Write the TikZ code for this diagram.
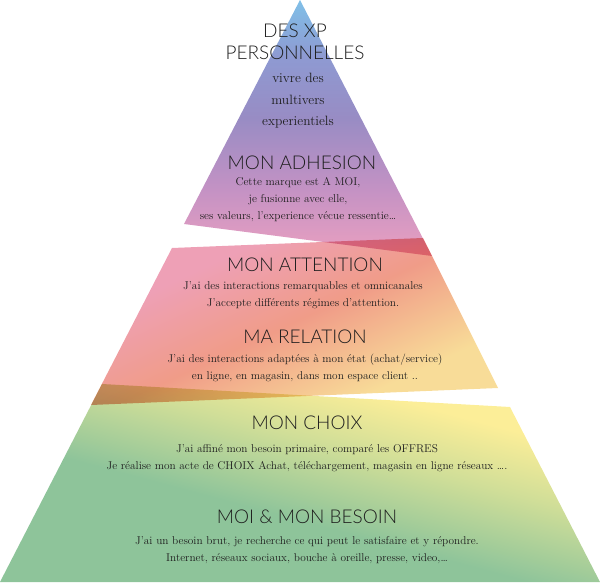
\documentclass[tikz,border=0pt]{standalone}
\usepackage{fontspec}
\newfontfamily\headfont{Lato Light}
\definecolor{xpBlue}{HTML}{80C0E8}
\definecolor{xpViolet}{HTML}{8E9AD2}
\definecolor{xpPurple}{HTML}{988CC4}
\definecolor{xpMauve}{HTML}{C492C4}
\definecolor{xpPink}{HTML}{EAA0C0}
\definecolor{relPink}{HTML}{EEA0B6}
\definecolor{relSalmon}{HTML}{F09C88}
\definecolor{relPeach}{HTML}{F8DC98}
\definecolor{lowGreen}{HTML}{8EC49A}
\definecolor{lowLime}{HTML}{D0DE98}
\definecolor{lowYellow}{HTML}{FCEE98}
\definecolor{inkGray}{HTML}{1E1E1E}
\pgfdeclareverticalshading{xpshade}{100bp}{color(0bp)=(xpPink); color(25bp)=(xpPink); color(38bp)=(xpMauve); color(52bp)=(xpPurple); color(64bp)=(xpViolet); color(75bp)=(xpBlue); color(100bp)=(xpBlue)}
\pgfdeclarehorizontalshading{relshade}{100bp}{color(0bp)=(relPink); color(32bp)=(relPink); color(50bp)=(relSalmon); color(70bp)=(relPeach); color(100bp)=(relPeach)}
\pgfdeclarehorizontalshading{lowshade}{100bp}{color(0bp)=(lowGreen); color(48bp)=(lowGreen); color(61bp)=(lowLime); color(71bp)=(lowYellow); color(100bp)=(lowYellow)}
\begin{document}
\begin{tikzpicture}[x=1pt, y=1pt,
    levelhead/.style={font=\headfont\fontsize{19}{21.5}\selectfont, text=inkGray, align=center, inner sep=0pt},
    leveltext/.style={font=\fontsize{11.3}{17}\selectfont, text=inkGray, align=center, inner sep=0pt}]
    \useasboundingbox (0, 0) rectangle (600, 582);
    \shade[shading=xpshade, blend mode=multiply] (300, 582) -- (432, 326) -- (184, 358) -- cycle;
    \shade[shading=relshade, shading angle=-65, blend mode=multiply] (172, 334) -- (423, 344) -- (498, 194) -- (91, 177) -- cycle;
    \begin{scope}
        \clip (102, 198) -- (510, 175) -- (600, 0) -- (0, 0) -- cycle;
        \begin{scope}[transform canvas={rotate around={75:(300, 100)}}]
            \shade[shading=lowshade, blend mode=multiply] (120, -300) rectangle (430, 460);
        \end{scope}
    \end{scope}
    \node[levelhead] (xp) at (295, 540) {DES XP\\PERSONNELLES};
    \node[leveltext, font=\fontsize{13.5}{21.5}\selectfont] (xptext) at (298, 481) {vivre des\\multivers\\experientiels};
    \node[levelhead] (adhesion) at (302, 419) {MON ADHESION};
    \node[leveltext] (adhesiontext) at (298, 382) {Cette marque est A MOI,\\je fusionne avec elle,\\ses valeurs, l’experience vécue ressentie…};
    \node[levelhead] (attention) at (305, 317) {MON ATTENTION};
    \node[leveltext] (attentiontext) at (303, 287) {J’ai des interactions remarquables et omnicanales\\J’accepte différents régimes d’attention.};
    \node[levelhead] (relation) at (305, 245) {MA RELATION};
    \node[leveltext] (relationtext) at (305, 214.5) {J’ai des interactions adaptées à mon état (achat/service)\\en ligne, en magasin, dans mon espace client ..};
    \node[levelhead] (choix) at (307, 159) {MON CHOIX};
    \node[leveltext] (choixtext) at (307, 124) {J’ai affiné mon besoin primaire, comparé les OFFRES\\Je réalise mon acte de CHOIX Achat, téléchargement, magasin en ligne réseaux ….};
    \node[levelhead] (besoin) at (307, 65) {MOI \& MON BESOIN};
    \node[leveltext] (besointext) at (307, 32) {J’ai un besoin brut, je recherche ce qui peut le satisfaire et y répondre.\\Internet, réseaux sociaux, bouche à oreille, presse, video,…};
\end{tikzpicture}
\end{document}
